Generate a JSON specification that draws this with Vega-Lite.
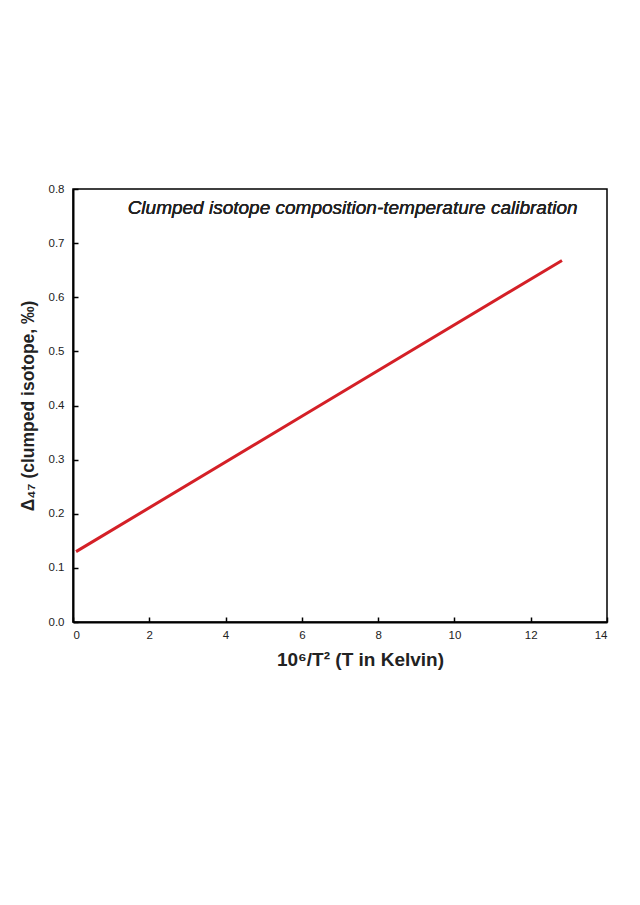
{
  "$schema": "https://vega.github.io/schema/vega-lite/v6.json",
  "width": 534,
  "height": 433,
  "autosize": "none",
  "padding": {"left": 73, "top": 189, "right": 33, "bottom": 283},
  "background": "white",
  "config": {
    "font": "Liberation Sans",
    "view": {"stroke": "black", "strokeWidth": 1.5},
    "axis": {
      "grid": false,
      "domainColor": "black",
      "domainWidth": 2,
      "tickColor": "black",
      "tickWidth": 1.5,
      "tickSize": -5,
      "labelFont": "Liberation Sans",
      "labelFontSize": 11.5,
      "labelColor": "#222222",
      "titleFont": "Liberation Sans",
      "titleFontSize": 19,
      "titleFontWeight": "bold",
      "titleColor": "#222222"
    }
  },
  "data": {
    "values": [
      {"inv_t2": 0.08, "d47": 0.13},
      {"inv_t2": 6.0, "d47": 0.38},
      {"inv_t2": 12.82, "d47": 0.668}
    ]
  },
  "layer": [
    {
      "mark": {"type": "line", "color": "#d42027", "strokeWidth": 3},
      "encoding": {
        "x": {
          "field": "inv_t2",
          "type": "quantitative",
          "scale": {"domain": [0, 14], "nice": false},
          "axis": {"values": [0, 2, 4, 6, 8, 10, 12, 14], "labelPadding": 12, "title": "10⁶/T² (T in Kelvin)", "titleX": 287, "titlePadding": 10}
        },
        "y": {
          "field": "d47",
          "type": "quantitative",
          "scale": {"domain": [0, 0.8], "nice": false},
          "axis": {"values": [0, 0.1, 0.2, 0.3, 0.4, 0.5, 0.6, 0.7, 0.8], "format": ".1f", "labelPadding": 14, "title": "Δ₄₇ (clumped isotope, ‰)", "titleFontSize": 17.5, "titlePadding": 11}
        }
      }
    },
    {
      "mark": {"type": "text", "text": "Clumped isotope composition-temperature calibration", "fontStyle": "italic", "fontSize": 19, "align": "center", "baseline": "middle", "color": "#222222"},
      "encoding": {
        "x": {"datum": 7.33},
        "y": {"datum": 0.764}
      }
    }
  ]
}
